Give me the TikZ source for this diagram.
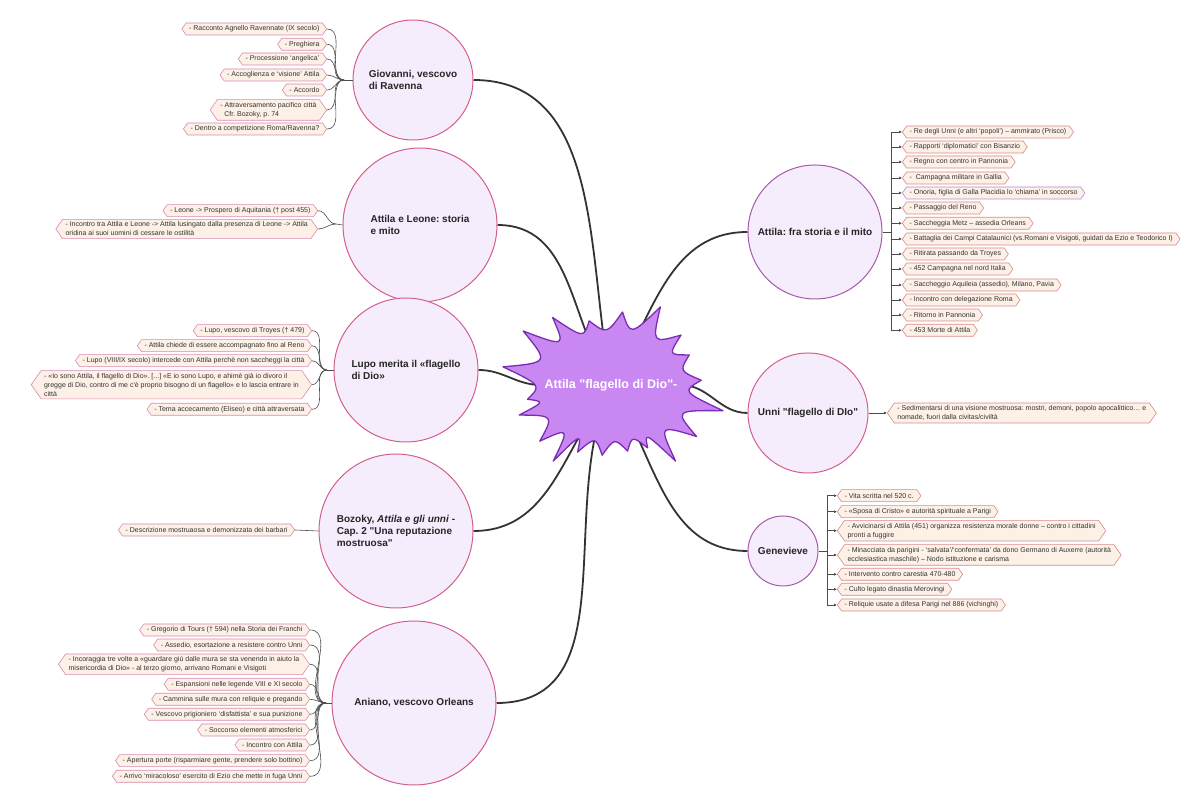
\documentclass[tikz,border=0pt]{standalone}
\usepackage{fontspec}
\setmainfont{Liberation Sans}[Ligatures=TeXOff]
\usepackage{xcolor}
\usetikzlibrary{positioning,arrows.meta,backgrounds,shapes.symbols}
\frenchspacing

\definecolor{leaffill}{HTML}{FDF0E6}
\definecolor{leafpink}{HTML}{D88AB0}
\definecolor{leafred}{HTML}{D68A8A}
\definecolor{leafviolet}{HTML}{B48CD8}
\definecolor{topicfill}{HTML}{F5EDFB}
\definecolor{topicpink}{HTML}{D35F90}
\definecolor{topicviolet}{HTML}{A65BAA}
\definecolor{burstfill}{HTML}{C987F1}
\definecolor{burstline}{HTML}{7A2CB5}
\definecolor{wire}{HTML}{333333}

\begin{document}
\begin{tikzpicture}[x=1pt, y=1pt, >={Latex[length=3pt,width=3pt]},
  topic/.style={circle, draw=topicpink, fill=topicfill, line width=1pt, minimum size=#1, inner sep=0pt, align=left, text=black!85, font=\bfseries\fontsize{10}{12}\selectfont},
  leaf/.style={signal, signal to=east and west, signal pointer angle=110, draw=leafpink, fill=leaffill, line width=0.6pt, inner xsep=3pt, inner ysep=2.5pt, minimum height=12pt, align=left, text=black!80, font=\fontsize{7}{9}\selectfont},
  leafR/.style={leaf, draw=leafred},
  twig/.style={draw=black!70, line width=0.6pt},
  limb/.style={draw=wire, line width=1.8pt},
  burst/.style={fill=burstfill, draw=burstline, line width=1.3pt, line join=round}]
\useasboundingbox (0,0) rectangle (1200,800);

% central burst
\draw[burst] ({612+80*1.45*cos(-16.8)},{414+59*1.45*sin(-16.8)})
  \foreach \a/\r/\v in {5/1.12/-5.9, 28.6/1.10/16.8, 45/1.22/36.8, 65.7/1.47/55.4, 84/1.26/74.9,
    104.5/1.14/94.3, 122.6/1.38/113.6, 140/1.45/131.3, 166.6/1.40/153.3, 192/1.08/179.3,
    203/1.26/197.5, 226/1.30/214.5, 240/1.47/233, 249/1.20/244.5, 264/1.18/256.5,
    280/1.12/272, 293/1.14/286.5, 302/1.50/297.5, 321/1.36/311.5, 343.2/1.45/332.1}
  { .. controls ({612+80*0.88*cos(\v)},{414+59*0.88*sin(\v)}) and ({612+80*0.88*cos(\v)},{414+59*0.88*sin(\v)}) .. ({612+80*\r*cos(\a)},{414+59*\r*sin(\a)}) } -- cycle;
\node[text=white, font=\bfseries\fontsize{12.5}{14}\selectfont] (hub) at (611,415) {Attila "flagello di Dio"-};

% topics
\node[topic=120] (giov) at (413,720) {Giovanni, vescovo\\di Ravenna};
\node[topic=154] (leone) at (420,575) {Attila e Leone: storia\\e mito};
\node[topic=144] (lupo) at (406,430) {Lupo merita il «flagello\\di Dio»};
\node[topic=154] (bozoky) at (396,269) {Bozoky, \textit{Attila e gli unni} -\\Cap. 2 "Una reputazione\\mostruosa"};
\node[topic=164] (aniano) at (414,97) {Aniano, vescovo Orleans};
\node[topic=134, draw=topicviolet] (attila) at (815,568) {Attila: fra storia e il mito};
\node[topic=120] (unni) at (808,387) {Unni "flagello di DIo"};
\node[topic=70, draw=topicviolet] (genev) at (783,249) {Genevieve};

% Giovanni
\node[leaf, anchor=east] (g1) at (327,771) {- Racconto Agnello Ravennate (IX secolo)};
\node[leaf, anchor=east] (g2) at (327,755.7) {- Preghiera};
\node[leaf, anchor=east] (g3) at (327,741) {- Processione ‘angelica’};
\node[leaf, anchor=east] (g4) at (327,725) {- Accoglienza e ‘visione’ Attila};
\node[leaf, anchor=east] (g5) at (327,710) {- Accordo};
\node[leaf, anchor=east] (g6) at (327,690) {- Attraversamento pacifico città\\\hspace*{4pt}Cfr. Bozoky, p. 74};
\node[leaf, anchor=east] (g7) at (327,671) {- Dentro a competizione Roma/Ravenna?};
\coordinate (gjn) at (344,720);
\draw[twig] (g1.east) to[out=0,in=180] (gjn); \draw[twig] (g2.east) to[out=0,in=180] (gjn);
\draw[twig] (g3.east) to[out=0,in=180] (gjn); \draw[twig] (g4.east) to[out=0,in=180] (gjn);
\draw[twig] (g5.east) to[out=0,in=180] (gjn); \draw[twig] (g6.east) to[out=0,in=180] (gjn);
\draw[twig] (g7.east) to[out=0,in=180] (gjn);
\draw[twig] (gjn) -- (giov.west);

% Leone
\node[leaf, anchor=east] (l1) at (318,589.3) {- Leone -> Prospero di Aquitania († post 455)};
\node[leaf, anchor=east] (l2) at (318,571) {- Incontro tra Attila e Leone -> Attila lusingato dalla presenza di Leone -> Attila\\oridina ai suoi uomini di cessare le ostilità};
\coordinate (ljn) at (336,576);
\draw[twig] (l1.east) to[out=0,in=180] (ljn); \draw[twig] (l2.east) to[out=0,in=180] (ljn);
\draw[twig] (ljn) -- (leone.west);

% Lupo
\node[leaf, anchor=east] (p1) at (312,469.3) {- Lupo, vescovo di Troyes († 479)};
\node[leaf, anchor=east] (p2) at (312,454.3) {- Attila chiede di essere accompagnato fino al Reno};
\node[leaf, anchor=east] (p3) at (312,439.3) {- Lupo (VIII/IX secolo) intercede con Attila perchè non saccheggi la città};
\node[leaf, anchor=east] (p4) at (312,415.3) {- «Io sono Attila, il flagello di Dio». [...] «E io sono Lupo, e ahimè già io divoro il\\gregge di Dio, contro di me c'è proprio bisogno di un flagello» e lo lascia entrare in\\città};
\node[leaf, anchor=east] (p5) at (312,390.7) {- Tema accecamento (Eliseo) e città attraversata};
\coordinate (pjn) at (327,430);
\draw[twig] (p1.east) to[out=0,in=180] (pjn); \draw[twig] (p2.east) to[out=0,in=180] (pjn);
\draw[twig] (p3.east) to[out=0,in=180] (pjn); \draw[twig] (p4.east) to[out=0,in=180] (pjn);
\draw[twig] (p5.east) to[out=0,in=180] (pjn);
\draw[twig] (pjn) -- (lupo.west);

% Bozoky
\node[leaf, anchor=east] (b1) at (295,270) {- Descrizione mostruaosa e demonizzata dei barbari};
\draw[twig] (b1.east) -- (bozoky.west);

% Aniano
\node[leaf, anchor=east] (a1) at (310,170) {- Gregorio di Tours († 594) nella Storia dei Franchi};
\node[leaf, anchor=east] (a2) at (310,155) {- Assedio, esortazione a resistere contro Unni};
\node[leaf, anchor=east] (a3) at (310,135.7) {- Incoraggia tre volte a «guardare giù dalle mura se sta venendo in aiuto la\\misericordia di Dio» - al terzo giorno, arrivano Romani e Visigoti};
\node[leaf, anchor=east] (a4) at (310,115.7) {- Espansioni nelle legende VIII e XI secolo};
\node[leaf, anchor=east] (a5) at (310,100.7) {- Cammina sulle mura con reliquie e pregando};
\node[leaf, anchor=east] (a6) at (310,85.7) {- Vescovo prigioniero ‘disfattista’ e sua punizione};
\node[leaf, anchor=east] (a7) at (310,70) {- Soccorso elementi atmosferici};
\node[leaf, anchor=east] (a8) at (310,55) {- Incontro con Attila};
\node[leaf, anchor=east] (a9) at (310,39.3) {- Apertura porte (risparmiare gente, prendere solo bottino)};
\node[leaf, anchor=east] (a10) at (310,23.7) {- Arrivo ‘miracoloso’ esercito di Ezio che mette in fuga Unni};
\coordinate (ajn) at (326,97);
\draw[twig] (a1.east) to[out=0,in=180] (ajn); \draw[twig] (a2.east) to[out=0,in=180] (ajn);
\draw[twig] (a3.east) to[out=0,in=180] (ajn); \draw[twig] (a4.east) to[out=0,in=180] (ajn);
\draw[twig] (a5.east) to[out=0,in=180] (ajn); \draw[twig] (a6.east) to[out=0,in=180] (ajn);
\draw[twig] (a7.east) to[out=0,in=180] (ajn); \draw[twig] (a8.east) to[out=0,in=180] (ajn);
\draw[twig] (a9.east) to[out=0,in=180] (ajn); \draw[twig] (a10.east) to[out=0,in=180] (ajn);
\draw[twig] (ajn) -- (aniano.west);

% Attila: fra storia e il mito
\node[leafR, anchor=west] (t1) at (902,668) {- Re degli Unni (e altri ‘popoli’) – ammirato (Prisco)};
\node[leafR, anchor=west] (t2) at (902,653) {- Rapporti ‘diplomatici’ con Bisanzio};
\node[leafR, anchor=west] (t3) at (902,638) {- Regno con centro in Pannonia};
\node[leafR, anchor=west] (t4) at (902,622) {-~ Campagna militare in Gallia};
\node[leafR, anchor=west, draw=leafviolet] (t5) at (902,607) {- Onoria, figlia di Galla Placidia lo ‘chiama’ in soccorso};
\node[leafR, anchor=west] (t6) at (902,592) {- Passaggio del Reno};
\node[leafR, anchor=west] (t7) at (902,576.7) {- Saccheggia Metz – assedia Orleans};
\node[leafR, anchor=west] (t8) at (902,561) {- Battaglia dei Campi Catalaunici (vs.Romani e Visigoti, guidati da Ezio e Teodorico I)};
\node[leafR, anchor=west] (t9) at (902,546) {- Ritirata passando da Troyes};
\node[leafR, anchor=west] (t10) at (902,531) {- 452 Campagna nel nord Italia};
\node[leafR, anchor=west] (t11) at (902,515) {- Saccheggio Aquileia (assedio), Milano, Pavia};
\node[leafR, anchor=west] (t12) at (902,500) {- Incontro con delegazione Roma};
\node[leafR, anchor=west] (t13) at (902,485) {- Ritorno in Pannonia};
\node[leafR, anchor=west] (t14) at (902,469.7) {- 453 Morte di Attila};
\coordinate (tjn) at (891,568);
\draw[twig] (attila.east) -- (tjn);
\draw[twig,->] (tjn) |- (t1.west); \draw[twig,->] (tjn) |- (t2.west); \draw[twig,->] (tjn) |- (t3.west);
\draw[twig,->] (tjn) |- (t4.west); \draw[twig,->] (tjn) |- (t5.west); \draw[twig,->] (tjn) |- (t6.west);
\draw[twig,->] (tjn) |- (t7.west); \draw[twig,->] (tjn) |- (t8.west); \draw[twig,->] (tjn) |- (t9.west);
\draw[twig,->] (tjn) |- (t10.west); \draw[twig,->] (tjn) |- (t11.west); \draw[twig,->] (tjn) |- (t12.west);
\draw[twig,->] (tjn) |- (t13.west); \draw[twig,->] (tjn) |- (t14.west);

% Unni
\node[leafR, anchor=west] (u1) at (887,387) {- Sedimentarsi di una visione mostruosa: mostri, demoni, popolo apocalittico… e\\nomade, fuori dalla civitas/civiltà};
\draw[twig,->] (unni.east) -- (u1.west);

% Genevieve
\node[leafR, anchor=west] (v1) at (837,304.3) {- Vita scritta nel 520 c.};
\node[leafR, anchor=west] (v2) at (837,288.3) {- «Sposa di Cristo» e autorità spirituale a Parigi};
\node[leafR, anchor=west] (v3) at (837,269.3) {- Avvicinarsi di Attila (451) organizza resistenza morale donne – contro i cittadini\\pronti a fuggire};
\node[leafR, anchor=west] (v4) at (837,245) {- Minacciata da parigini - ‘salvata’/‘confermata’ da dono Germano di Auxerre (autorità\\ecclesiastica maschile) – Nodo istituzione e carisma};
\node[leafR, anchor=west] (v5) at (837,225.7) {- Intervento contro carestia 470-480};
\node[leafR, anchor=west] (v6) at (837,210.7) {- Culto legato dinastia Merovingi};
\node[leafR, anchor=west] (v7) at (837,195) {- Reliquie usate a difesa Parigi nel 886 (vichinghi)};
\coordinate (vjn) at (827,249);
\draw[twig] (genev.east) -- (vjn);
\draw[twig,->] (vjn) |- (v1.west); \draw[twig,->] (vjn) |- (v2.west); \draw[twig,->] (vjn) |- (v3.west);
\draw[twig,->] (vjn) |- (v4.west); \draw[twig,->] (vjn) |- (v5.west); \draw[twig,->] (vjn) |- (v6.west);
\draw[twig,->] (vjn) |- (v7.west);

% main branches under the burst
\begin{scope}[on background layer]
\draw[limb] (hub) to[out=100,in=0] (giov.east);
\draw[limb] (hub) to[out=120,in=0] (leone.east);
\draw[limb] (hub) to[out=180,in=0] (lupo.east);
\draw[limb] (hub) to[out=235,in=0] (bozoky.east);
\draw[limb] (hub) to[out=248,in=0] (aniano.east);
\draw[limb] (hub) to[out=60,in=180] (attila.west);
\draw[limb] (hub) to[out=0,in=180] (unni.west);
\draw[limb] (hub) to[out=300,in=180] (genev.west);
\end{scope}
\end{tikzpicture}
\end{document}
